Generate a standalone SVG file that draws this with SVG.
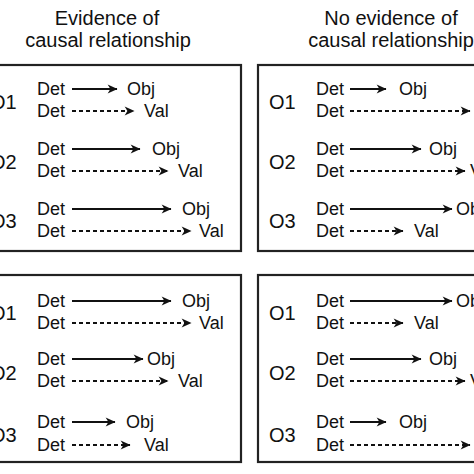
<svg xmlns="http://www.w3.org/2000/svg" width="474" height="474" viewBox="0 0 474 474">
<style>
text{font-family:"Liberation Sans",Arial,sans-serif;fill:#111}
.t{font-size:20px;text-anchor:middle}
.o{font-size:20px}
.d{font-size:18px}
.box{fill:none;stroke:#222;stroke-width:2.2}
.s{stroke:#111;stroke-width:2;fill:none;marker-end:url(#ah)}
.ds{stroke:#111;stroke-width:2;fill:none;stroke-dasharray:4 3;marker-end:url(#ah)}
</style>
<defs>
<marker id="ah" markerUnits="userSpaceOnUse" markerWidth="11" markerHeight="11" viewBox="0 0 10 10" refX="9" refY="5" orient="auto">
<path d="M0.5,0.8 L9.5,5 L0.5,9.2 L3,5 Z" fill="#111"/>
</marker>
</defs>
<rect width="474" height="474" fill="#fff"/>
<g id="titles">
<text class="t" x="107" y="25">Evidence of</text>
<text class="t" x="108" y="47">causal relationship</text>
<text class="t" x="391" y="25">No evidence of</text>
<text class="t" x="391" y="47">causal relationship</text>
</g>
<g id="panel-tl">
<rect class="box" x="-21" y="65" width="262" height="186"/>
<text class="o" x="-10" y="109">O1</text>
<text class="o" x="-10" y="169">O2</text>
<text class="o" x="-10" y="228">O3</text>
<text class="d" x="37" y="95">Det</text><text class="d" x="127" y="95">Obj</text>
<text class="d" x="37" y="117">Det</text><text class="d" x="144" y="117">Val</text>
<text class="d" x="37" y="155">Det</text><text class="d" x="152" y="155">Obj</text>
<text class="d" x="37" y="177">Det</text><text class="d" x="178" y="177">Val</text>
<text class="d" x="37" y="215">Det</text><text class="d" x="182" y="215">Obj</text>
<text class="d" x="37" y="237">Det</text><text class="d" x="199" y="237">Val</text>
</g>
<g id="panel-tr">
<rect class="box" x="258" y="65" width="262" height="186"/>
<text class="o" x="269" y="109">O1</text>
<text class="o" x="269" y="169">O2</text>
<text class="o" x="269" y="228">O3</text>
<text class="d" x="316" y="95">Det</text><text class="d" x="399" y="95">Obj</text>
<text class="d" x="316" y="117">Det</text>
<text class="d" x="316" y="155">Det</text><text class="d" x="429" y="155">Obj</text>
<text class="d" x="316" y="177">Det</text><text class="d" x="470" y="177">Val</text>
<text class="d" x="316" y="215">Det</text><text class="d" x="456" y="215">Obj</text>
<text class="d" x="316" y="237">Det</text><text class="d" x="414" y="237">Val</text>
</g>
<g id="panel-bl">
<rect class="box" x="-21" y="275" width="262" height="187"/>
<text class="o" x="-10" y="320">O1</text>
<text class="o" x="-10" y="380">O2</text>
<text class="o" x="-10" y="442">O3</text>
<text class="d" x="37" y="307">Det</text><text class="d" x="182" y="307">Obj</text>
<text class="d" x="37" y="329">Det</text><text class="d" x="199" y="329">Val</text>
<text class="d" x="37" y="365">Det</text><text class="d" x="147" y="365">Obj</text>
<text class="d" x="37" y="387">Det</text><text class="d" x="178" y="387">Val</text>
<text class="d" x="37" y="428">Det</text><text class="d" x="126" y="428">Obj</text>
<text class="d" x="37" y="451">Det</text><text class="d" x="144" y="451">Val</text>
</g>
<g id="panel-br">
<rect class="box" x="258" y="275" width="262" height="187"/>
<text class="o" x="269" y="320">O1</text>
<text class="o" x="269" y="380">O2</text>
<text class="o" x="269" y="442">O3</text>
<text class="d" x="316" y="307">Det</text><text class="d" x="456" y="307">Obj</text>
<text class="d" x="316" y="329">Det</text><text class="d" x="414" y="329">Val</text>
<text class="d" x="316" y="365">Det</text><text class="d" x="429" y="365">Obj</text>
<text class="d" x="316" y="387">Det</text><text class="d" x="470" y="387">Val</text>
<text class="d" x="316" y="428">Det</text><text class="d" x="399" y="428">Obj</text>
<text class="d" x="316" y="451">Det</text>
</g>
<g id="connectors">
<line class="s" x1="72" y1="89" x2="117" y2="89"/>
<line class="ds" x1="72" y1="111" x2="134" y2="111"/>
<line class="s" x1="72" y1="149" x2="140" y2="149"/>
<line class="ds" x1="72" y1="171" x2="168" y2="171"/>
<line class="s" x1="72" y1="209" x2="171" y2="209"/>
<line class="ds" x1="72" y1="231" x2="191" y2="231"/>
<line class="s" x1="350" y1="89" x2="386" y2="89"/>
<line class="ds" x1="350" y1="111" x2="470" y2="111"/>
<line class="s" x1="350" y1="149" x2="421" y2="149"/>
<line class="ds" x1="350" y1="171" x2="465" y2="171"/>
<line class="s" x1="350" y1="209" x2="452" y2="209"/>
<line class="ds" x1="350" y1="231" x2="403" y2="231"/>
<line class="s" x1="72" y1="301" x2="171" y2="301"/>
<line class="ds" x1="72" y1="323" x2="191" y2="323"/>
<line class="s" x1="72" y1="359" x2="143" y2="359"/>
<line class="ds" x1="72" y1="381" x2="168" y2="381"/>
<line class="s" x1="72" y1="422" x2="115" y2="422"/>
<line class="ds" x1="72" y1="445" x2="130" y2="445"/>
<line class="s" x1="350" y1="301" x2="452" y2="301"/>
<line class="ds" x1="350" y1="323" x2="403" y2="323"/>
<line class="s" x1="350" y1="359" x2="421" y2="359"/>
<line class="ds" x1="350" y1="381" x2="465" y2="381"/>
<line class="s" x1="350" y1="422" x2="386" y2="422"/>
<line class="ds" x1="350" y1="445" x2="470" y2="445"/>
</g>
</svg>
